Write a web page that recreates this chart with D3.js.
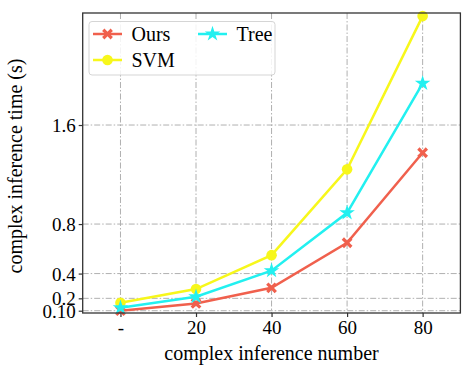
<!DOCTYPE html>
<html><head><meta charset="utf-8">
<script src="https://cdn.jsdelivr.net/npm/d3@7"></script>
<style>body{margin:0;background:#fff}svg{display:block}</style>
</head><body>
<script>
const categories = ["-", "20", "40", "60", "80"];
const oursValues = [0.10, 0.159, 0.285, 0.649, 1.376];
const svmValues = [0.164, 0.275, 0.549, 1.242, 2.48];
const treeValues = [0.124, 0.213, 0.423, 0.891, 1.937];
const yTicks = [0.10, 0.2, 0.4, 0.8, 1.6];
const yTickLabels = ["0.10", "0.2", "0.4", "0.8", "1.6"];

const series = [
  {name: "Ours", values: oursValues, color: "#f0604d", marker: "x"},
  {name: "SVM", values: svmValues, color: "#f7f71b", marker: "o"},
  {name: "Tree", values: treeValues, color: "#22f0f0", marker: "*"}
];

const W = 474, H = 379;
const L = 82.7, R = 460.4, T = 13, B = 313;
const font = "'Liberation Serif', 'Times New Roman', serif";

const svg = d3.select("body").append("svg").attr("width", W).attr("height", H);

const x = d3.scaleLinear().domain([-0.5, categories.length - 0.5]).range([L, R]);
const y = d3.scaleLinear().domain([0.0815, 2.505]).range([B, T]);

// grid
const grid = svg.append("g");
categories.forEach((c, i) => {
  grid.append("line").attr("x1", x(i)).attr("x2", x(i)).attr("y1", T).attr("y2", B)
    .attr("stroke", "#b0b0b0").attr("stroke-width", 1).attr("stroke-dasharray", "6,2,1.5,2");
});
yTicks.forEach(v => {
  grid.append("line").attr("x1", L).attr("x2", R).attr("y1", y(v)).attr("y2", y(v))
    .attr("stroke", "#b0b0b0").attr("stroke-width", 1).attr("stroke-dasharray", "6,2,1.5,2");
});

// axes
const xAxis = d3.axisBottom(x).tickValues(d3.range(categories.length))
  .tickFormat(i => categories[i]).tickSize(4).tickPadding(4);
const yAxis = d3.axisLeft(y).tickValues(yTicks)
  .tickFormat((d, i) => yTickLabels[i]).tickSize(4).tickPadding(3);

const gx = svg.append("g").attr("transform", `translate(0,${B})`).call(xAxis);
const gy = svg.append("g").attr("transform", `translate(${L},0)`).call(yAxis);
[gx, gy].forEach(g => {
  g.attr("font-family", font).attr("font-size", 19);
  g.select(".domain").remove();
  g.selectAll(".tick line").attr("stroke", "#333").attr("stroke-width", 1.2);
  g.selectAll(".tick text").attr("font-family", font).attr("font-size", 19).attr("fill", "#000");
});
gy.selectAll(".tick text").attr("dy", "0.34em");

// lines and markers
const line = d3.line().x((d, i) => x(i)).y(d => y(d));
const starPath = d3.symbol(d3.symbolStar, 75)();
const xPath = (() => {
  const a = 5.4, w = 2.3;
  return `M${-a},${-a+w}L${-a+w},${-a}L0,${-w}L${a-w},${-a}L${a},${-a+w}L${w},0L${a},${a-w}L${a-w},${a}L0,${w}L${-a+w},${a}L${-a},${a-w}L${-w},0Z`;
})();
function drawMarker(g, m, color) {
  if (m === "o") g.append("circle").attr("r", 5.3).attr("fill", color);
  else if (m === "*") g.append("path").attr("d", starPath).attr("fill", color);
  else g.append("path").attr("d", xPath).attr("fill", color);
}

const plot = svg.append("g");
series.forEach(s => {
  plot.append("path").datum(s.values).attr("d", line).attr("fill", "none")
    .attr("stroke", s.color).attr("stroke-width", 2.5);
  s.values.forEach((v, i) => {
    const g = plot.append("g").attr("transform", `translate(${x(i)},${y(v)})`);
    drawMarker(g, s.marker, s.color);
  });
});

// frame
svg.append("rect").attr("x", L).attr("y", T).attr("width", R - L).attr("height", B - T)
  .attr("fill", "none").attr("stroke", "#333").attr("stroke-width", 1.3);

// legend
const lg = svg.append("g");
lg.append("rect").attr("x", 89).attr("y", 21.5).attr("width", 186).attr("height", 53.5)
  .attr("rx", 3).attr("fill", "rgba(255,255,255,0.85)").attr("stroke", "#d5d5d5").attr("stroke-width", 1);
const legendPos = [
  {s: series[0], hx: 93, ty: 34},
  {s: series[1], hx: 93, ty: 60},
  {s: series[2], hx: 198, ty: 34}
];
legendPos.forEach(p => {
  lg.append("line").attr("x1", p.hx).attr("x2", p.hx + 29).attr("y1", p.ty).attr("y2", p.ty)
    .attr("stroke", p.s.color).attr("stroke-width", 2.5);
  const g = lg.append("g").attr("transform", `translate(${p.hx + 14.5},${p.ty})`);
  drawMarker(g, p.s.marker, p.s.color);
  lg.append("text").attr("x", p.hx + 38.5).attr("y", p.ty).attr("dy", "0.33em")
    .attr("font-family", font).attr("font-size", 20).attr("fill", "#000").text(p.s.name);
});

// axis labels
svg.append("text").attr("x", (L + R) / 2).attr("y", 360).attr("text-anchor", "middle")
  .attr("font-family", font).attr("font-size", 20).attr("fill", "#000").text("complex inference number");
svg.append("text").attr("transform", `translate(22,${(T + B) / 2 + 3}) rotate(-90)`)
  .attr("text-anchor", "middle").attr("font-family", font).attr("font-size", 20).attr("fill", "#000")
  .text("complex inference time (s)");
</script>
</body></html>
